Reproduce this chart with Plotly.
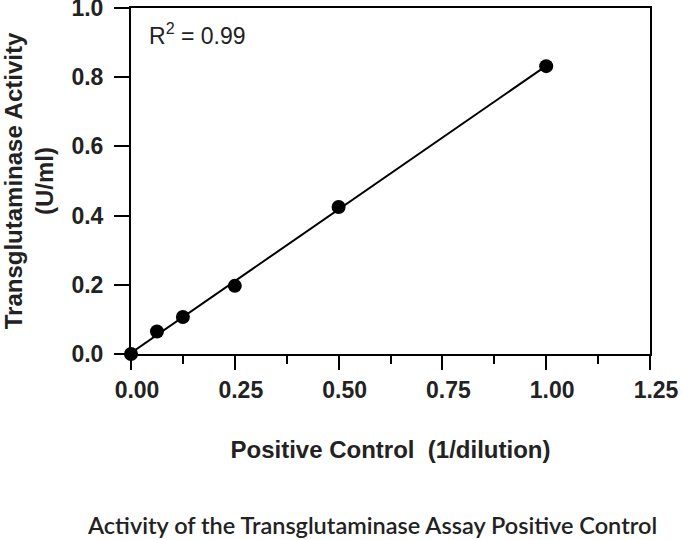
import numpy as np
import plotly.graph_objects as go

# Data
dilution = [0.0, 0.0625, 0.125, 0.25, 0.5, 1.0]
activity = [0.0, 0.065, 0.107, 0.197, 0.425, 0.832]
x_ticks = [0.0, 0.25, 0.5, 0.75, 1.0, 1.25]
x_tick_labels = ["0.00", "0.25", "0.50", "0.75", "1.00", "1.25"]
x_minor_ticks = [0.125, 0.375, 0.625, 0.875, 1.125]
y_ticks = [0.0, 0.2, 0.4, 0.6, 0.8, 1.0]
y_tick_labels = ["0.0", "0.2", "0.4", "0.6", "0.8", "1.0"]
r2_text = "R<sup>2</sup> = 0.99"
x_title = "Positive Control\u00a0\u00a0(1/dilution)"
y_title = "Transglutaminase Activity<br>(U/ml)"
caption = "Activity of the Transglutaminase Assay Positive Control"

slope, intercept = np.polyfit(dilution, activity, 1)
fit_x = [min(dilution), max(dilution)]
fit_y = [slope * v + intercept for v in fit_x]

txt = "#222222"
tick_font = dict(family="Liberation Sans, Arial, sans-serif", size=23, color=txt, weight="bold")
title_font = dict(family="Liberation Sans, Arial, sans-serif", size=24, color=txt, weight="bold")

fig = go.Figure()
fig.add_trace(go.Scatter(x=fit_x, y=fit_y, mode="lines",
                         line=dict(color="black", width=2), cliponaxis=False,
                         hoverinfo="skip"))
fig.add_trace(go.Scatter(x=dilution, y=activity, mode="markers",
                         marker=dict(color="black", size=14), cliponaxis=False))

L, T, PW, PH = 131, 8, 519, 346
fig.update_layout(
    width=683, height=540,
    margin=dict(l=L, r=683 - L - PW, t=T, b=540 - T - PH, autoexpand=False),
    plot_bgcolor="white", paper_bgcolor="white",
    showlegend=False,
    xaxis=dict(range=[0, 1.25], tickvals=x_ticks, ticktext=x_tick_labels,
               ticks="outside", ticklen=14, tickwidth=2, tickcolor="black",
               showline=True, linewidth=2, linecolor="black", mirror=True,
               showgrid=False, zeroline=False, tickfont=tick_font,
               ticklabelshift=6, ticklabeloverflow="allow", automargin=False,
               minor=dict(tickvals=x_minor_ticks,
                          ticks="outside", ticklen=8, tickwidth=2, tickcolor="black",
                          showgrid=False),
               title=dict(text=x_title, font=title_font, standoff=40)),
    yaxis=dict(range=[0, 1.0], tickvals=y_ticks, ticktext=y_tick_labels,
               ticks="outside", ticklen=15, tickwidth=2, tickcolor="black",
               showline=True, linewidth=2, linecolor="black", mirror=True,
               showgrid=False, zeroline=False, tickfont=tick_font,
               ticklabelstandoff=6, ticklabeloverflow="allow", automargin=False,
               title=dict(text=y_title, font=title_font, standoff=20)),
    annotations=[
        dict(text=r2_text, x=(147 - L) / PW, y=1 - (17 - T) / PH, xref="paper", yref="paper",
             xanchor="left", yanchor="top", showarrow=False,
             font=dict(family="Liberation Sans, Arial, sans-serif", size=23, color=txt)),
        dict(text=caption, x=(372 - L) / PW, y=-(525 - T - PH) / PH, xref="paper", yref="paper",
             xanchor="center", yanchor="middle", showarrow=False,
             font=dict(family="Lato, sans-serif", size=23.5, color=txt, weight=600)),
    ],
)
fig.write_html("out.html", config={"displayModeBar": False},
               post_script="document.body.style.margin='0';")
